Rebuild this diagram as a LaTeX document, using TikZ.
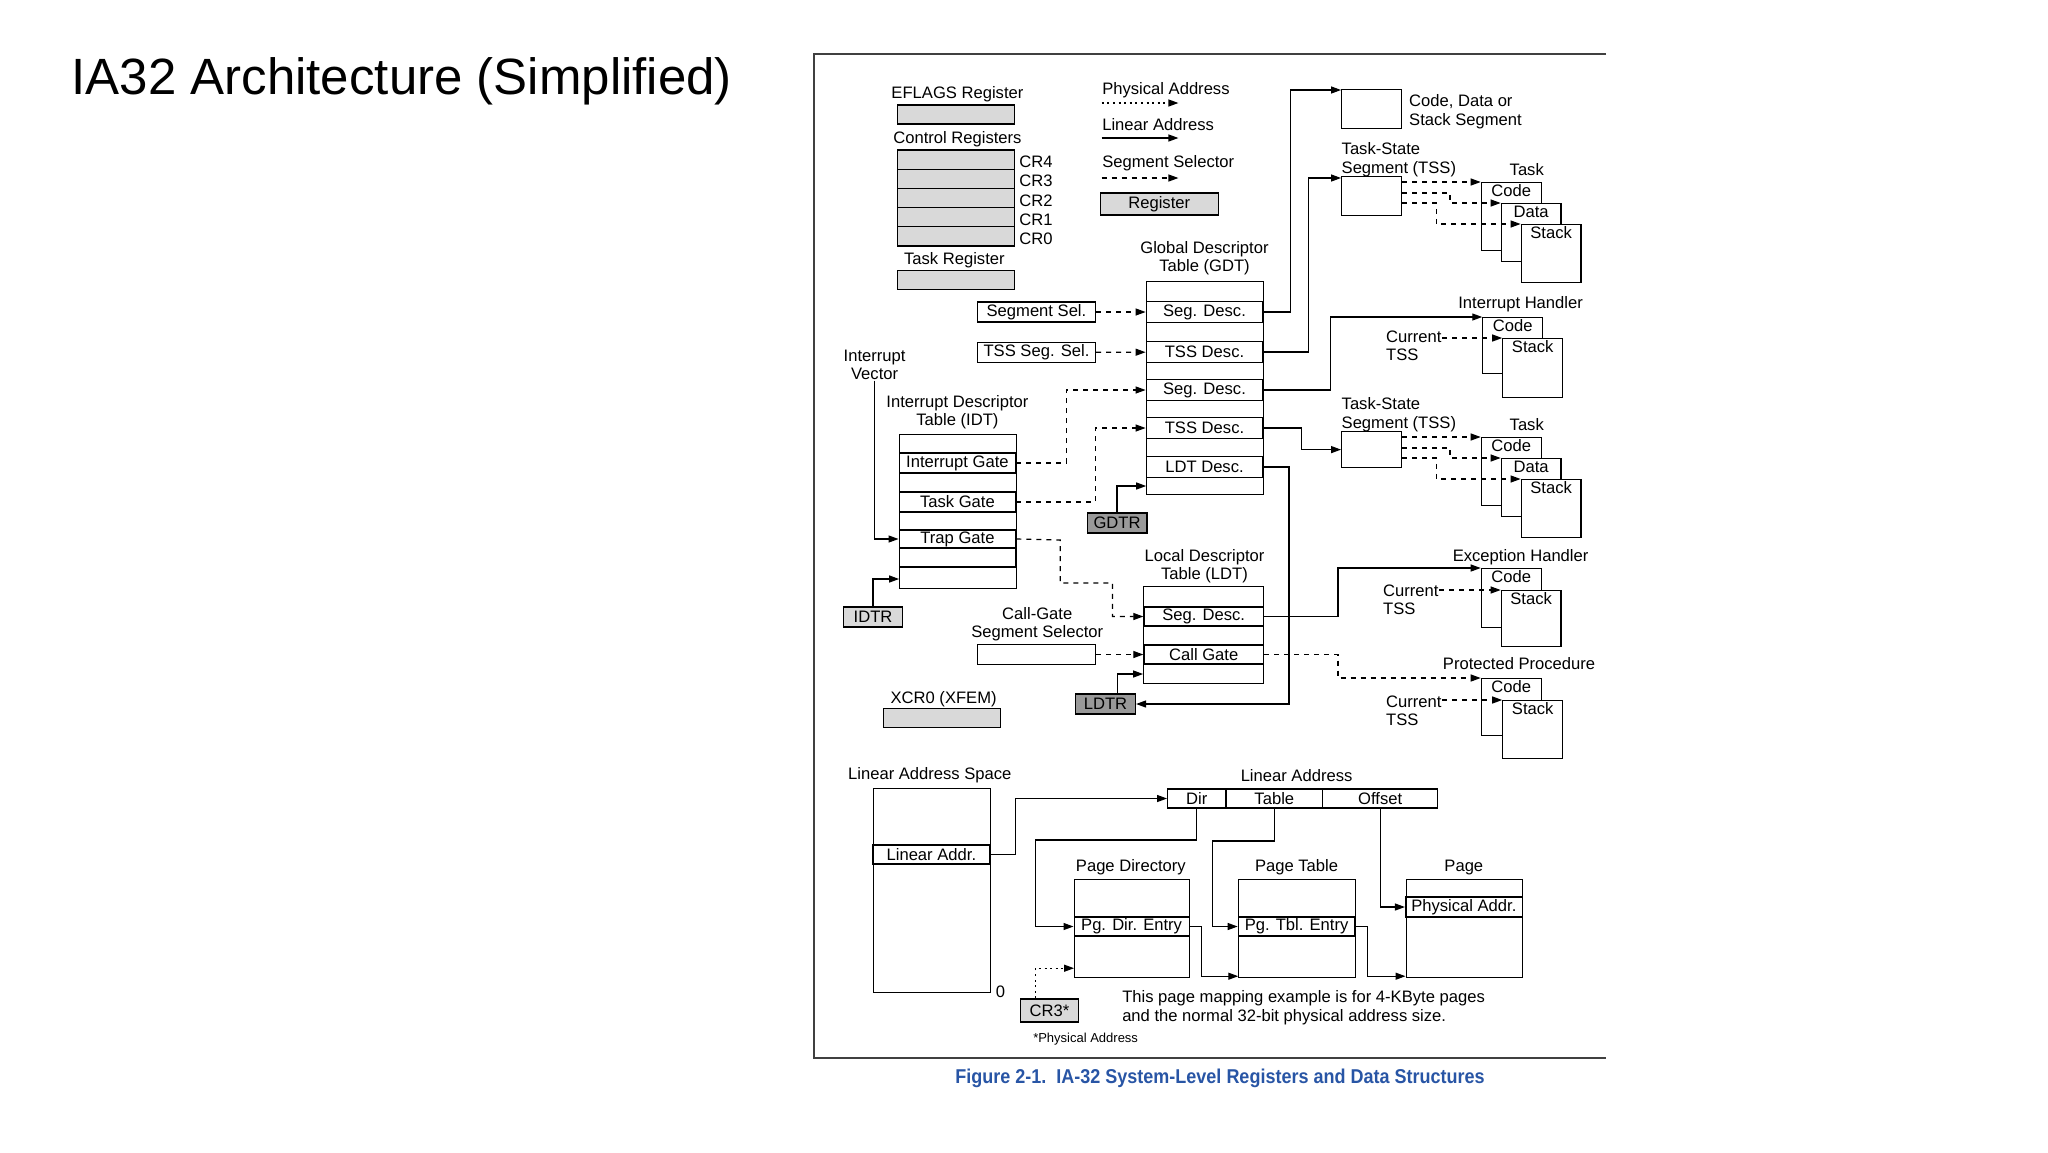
\documentclass[tikz,border=0pt]{standalone}
\usepackage{fontspec}
\setmainfont{Liberation Sans}
\newfontfamily\titlefont{Liberation Sans}
\newfontfamily\capfont{Liberation Sans}[FakeStretch=0.9]
\usetikzlibrary{arrows.meta,positioning}
\definecolor{regfill}{gray}{0.85}
\definecolor{regdark}{gray}{0.6}
\definecolor{capblue}{RGB}{40,85,165}
\tikzset{
  every node/.style={font=\fontsize{8.3}{9.3}\selectfont},
  row/.style={draw, minimum width=58.3pt, minimum height=10pt, inner sep=0pt},
  tbl/.style={draw, minimum width=58.3pt, anchor=north west, inner sep=0pt},
  reg/.style={draw, fill=regfill, minimum width=58.3pt, minimum height=9.5pt, inner sep=0pt},
  sreg/.style={draw, fill=regdark, minimum width=29.9pt, minimum height=10pt, inner sep=0pt},
  page/.style={draw, fill=white, minimum width=29.9pt, anchor=north west, inner sep=0pt},
  lbl/.style={align=center, inner sep=0pt},
  lin/.style={-{Triangle[length=5pt,width=3.5pt]}},
  sel/.style={lin, dash pattern=on 2.5pt off 2.5pt},
  phys/.style={lin, dash pattern=on 1pt off 1.8pt},
}
\begin{document}
\begin{tikzpicture}[x=0.5pt, y=-0.5pt, line width=0.6pt]
  \useasboundingbox (0,0) rectangle (2048,1152);
  \node[anchor=west, inner sep=0pt, font=\titlefont\fontsize{25.5}{30}\selectfont] (title) at (71,81) {IA32 Architecture (Simplified)};

  % frame
  \draw[line width=0.8pt, black!75] (1606,54) -- (814,54) -- (814,1058) -- (1606,1058);

  \begin{scope}[x=0.76725pt, xshift=-216.4pt]
  % registers
  \node[lbl] (eflagslbl) at (906,94) {EFLAGS Register};
  \node[reg] (eflags) at (905,114.5) {};
  \node[lbl] (crlbl) at (906,139) {Control Registers};
  \foreach \i/\c in {0/CR4,1/CR3,2/CR2,3/CR1,4/CR0} {
    \node[reg, minimum height=9.6pt] (cr\i) at (905,{159.6+19.2*\i}) {};
    \node[anchor=west, inner sep=0pt] (crname\i) at (946,{162+19.2*\i}) {\c};
  }
  \node[lbl] (trlbl) at (904,260) {Task Register};
  \node[reg] (tr) at (905,280) {};
  \node[lbl] (xcrlbl) at (897,699) {XCR0 (XFEM)};
  \node[reg] (xcr) at (896,718) {};

  % legend
  \node[anchor=west, inner sep=0pt] (lgphys) at (1000,90) {Physical Address};
  \coordinate (lgpa) at (1000,103); \coordinate (lgpb) at (1050,103);
  \draw[phys] (lgpa) -- (lgpb);
  \node[anchor=west, inner sep=0pt] (lglin) at (1000,125) {Linear Address};
  \coordinate (lgla) at (1000,138); \coordinate (lglb) at (1050,138);
  \draw[lin] (lgla) -- (lglb);
  \node[anchor=west, inner sep=0pt] (lgsel) at (1000,163) {Segment Selector};
  \coordinate (lgsa) at (1000,178); \coordinate (lgsb) at (1050,178);
  \draw[sel] (lgsa) -- (lgsb);
  \node[reg, minimum width=59.1pt, minimum height=11pt] (lgreg) at (1037.5,204) {Register};

  % GDT
  \node[lbl] (gdtlbl) at (1067,258) {Global Descriptor\\Table (GDT)};
  \node[tbl, minimum height=106.5pt] (gdt) at (1029,281) {};
  \foreach \i/\y/\t in {1/312/Seg. Desc.,2/352/TSS Desc.,3/390/Seg. Desc.,4/428/TSS Desc.,5/467/LDT Desc.}
    \node[row, minimum height=10.5pt] (gdt\i) at (1067,\y) {\t};
  \node[row, minimum width=59.1pt] (segsel) at (957.5,312) {Segment Sel.};
  \node[row, minimum width=59.1pt] (tsssel) at (957.5,352.5) {TSS Seg. Sel.};
  \draw[sel] (segsel) -- (gdt1);
  \draw[sel] (tsssel) -- (gdt2);
  \node[sreg] (gdtr) at (1010,523) {GDTR};
  \draw[lin] (gdtr.north) |- (gdt.west |- 0,486);

  % IDT
  \node[lbl] (ivec) at (852,365) {Interrupt\\Vector};
  \node[lbl] (idtlbl) at (906,412) {Interrupt Descriptor\\Table (IDT)};
  \node[tbl, minimum height=77pt] (idt) at (868,434) {};
  \node[row] (igate) at (906,463) {Interrupt Gate};
  \node[row] (tgate) at (906,502) {Task Gate};
  \node[row, minimum height=9pt] (trgate) at (906,539) {Trap Gate};
  \node[row, minimum height=9.5pt] (idt4) at (906,557.5) {};
  \draw[lin] (ivec.south) |- (trgate.west);
  \node[reg, minimum width=29.2pt, minimum height=10pt] (idtr) at (851,617) {IDTR};
  \draw[lin] (idtr.north) |- (idt.west |- 0,579);
  \draw[sel] (igate.east) -- (977,463) |- (gdt3.west);
  \draw[sel] (tgate.east) -- (996,502) |- (gdt4.west);

  % LDT
  \node[lbl] (ldtlbl) at (1067,566) {Local Descriptor\\Table (LDT)};
  \node[tbl, minimum width=59.8pt, minimum height=48.5pt] (ldt) at (1027,586) {};
  \node[row, minimum width=59.8pt, minimum height=9.5pt] (ldt1) at (1066.5,616.5) {Seg. Desc.};
  \node[row, minimum width=59.8pt, minimum height=9.5pt] (ldt2) at (1066.5,654.5) {Call Gate};
  \draw[sel] (trgate.east) -- (973,540) -- (973,583) -- (1007,583) |- (ldt1.west);
  \node[lbl] (cglbl) at (958,624) {Call-Gate\\Segment Selector};
  \node[row, minimum width=59.1pt] (cgsel) at (957.5,654.5) {};
  \draw[sel] (cgsel) -- (ldt2);
  \node[sreg] (ldtr) at (1002.5,704) {LDTR};
  \draw[lin] ([xshift=6pt]ldtr.north) |- (ldt.west |- 0,674);
  \draw[lin] (gdt5.east) -- (1122,467) |- (ldtr.east);

  % code, data or stack segment
  \node[page, minimum height=19.5pt] (cds) at (1156,89) {};
  \node[anchor=north west, align=left, inner sep=0pt] (cdslbl) at (1200,94) {Code, Data or\\Stack Segment};
  \draw[lin] (gdt1.east) -- (1123,312) |- ([yshift=-0.5pt]cds.north west);

  % tasks
  \foreach \n/\d/\h in {1/0/19.5, 2/255/18} {
    \node[anchor=north west, align=left, inner sep=0pt] (tsslbl\n) at (1156,{142+\d}) {Task-State\\Segment (TSS)};
    \node[page, minimum height=\h pt] (tss\n) at (1156,{176+\d}) {};
    \node[inner sep=0pt] (tasklbl\n) at (1277,{170+\d}) {Task};
    \node[page, minimum height=34pt, label={[anchor=north, inner sep=1pt]north:Code}] (code\n) at (1247,{182+\d}) {};
    \node[page, minimum height=29pt, label={[anchor=north, inner sep=1pt]north:Data}] (data\n) at (1260,{203+\d}) {};
    \node[page, minimum height=29pt, label={[anchor=north, inner sep=1pt]north:Stack}] (stack\n) at (1273,{224+\d}) {};
    \draw[sel] (tss\n.east |- code\n.north west) -- (code\n.north west);
    \draw[sel] (tss\n.east |- 0,{193+\d}) -- (1227,{193+\d}) |- (data\n.north west);
    \draw[sel] (tss\n.east |- 0,{203+\d}) -- (1218,{203+\d}) |- (stack\n.north west);
  }
  \draw[lin] (gdt2.east) -- (1135,352) |- ([yshift=-1pt]tss1.north west);
  \draw[lin] (gdt4.east) -- (1130,428) |- (tss2.west);

  % handlers
  \node[inner sep=0pt] (hlbl) at (1273,304) {Interrupt Handler};
  \node[page, minimum height=28pt, label={[anchor=north, inner sep=1pt]north:Code}] (hcode) at (1248,317) {};
  \node[page, minimum height=29.5pt, label={[anchor=north, inner sep=1pt]north:Stack}] (hstack) at (1261,338) {};
  \node[anchor=north west, align=left, inner sep=0pt] (ctss1) at (1185,330) {Current\\TSS};
  \draw[sel] (ctss1.east |- hstack.north west) -- (hstack.north west);
  \draw[lin] (gdt3.east) -- (1149,390) |- (hcode.north west);

  \node[inner sep=0pt] (elbl) at (1273,557) {Exception Handler};
  \node[page, minimum height=29.5pt, label={[anchor=north, inner sep=1pt]north:Code}] (ecode) at (1247,568) {};
  \node[page, minimum height=28pt, label={[anchor=north, inner sep=1pt]north:Stack}] (estack) at (1260,590) {};
  \node[anchor=north west, align=left, inner sep=0pt] (ctss2) at (1183,584) {Current\\TSS};
  \draw[sel] (ctss2.east |- estack.north west) -- (estack.north west);
  \draw[lin] (ldt1.east) -- (1154,616.5) |- (ecode.north west);

  \node[inner sep=0pt] (plbl) at (1272,664) {Protected Procedure};
  \node[page, minimum height=28.5pt, label={[anchor=north, inner sep=1pt]north:Code}] (pcode) at (1247,678) {};
  \node[page, minimum height=29pt, label={[anchor=north, inner sep=1pt]north:Stack}] (pstack) at (1261,700) {};
  \node[anchor=north west, align=left, inner sep=0pt] (ctss3) at (1185,695) {Current\\TSS};
  \draw[sel] (ctss3.east |- pstack.north west) -- (pstack.north west);
  \draw[sel] (ldt2.east) -- (1154,654.5) |- (pcode.north west);

  % paging
  \node[inner sep=0pt] (laslbl) at (888,775) {Linear Address Space};
  \node[tbl, minimum height=102pt] (las) at (851,788) {};
  \node[row, minimum height=9.5pt] (laddr) at (889,854.5) {Linear Addr.};
  \node[inner sep=0pt] (zero) at (934,992) {0};
  \node[inner sep=0pt] (lalbl) at (1127,776) {Linear Address};
  \node[row, minimum width=29.2pt, minimum height=9.5pt] (ladir) at (1062,798.5) {Dir};
  \node[row, minimum width=48.3pt, minimum height=9.5pt] (latab) at (1112.5,798.5) {Table};
  \node[row, minimum width=57.5pt, minimum height=9.5pt] (laoff) at (1181.5,798.5) {Offset};
  \draw[lin] (laddr.east) -- (944,854.5) |- (ladir.west);

  \node[inner sep=0pt] (pdlbl) at (1019,867) {Page Directory};
  \node[tbl, minimum width=57.5pt, minimum height=49pt] (pd) at (982,879) {};
  \node[row, minimum width=57.5pt, minimum height=9.5pt] (pde) at (1019.5,926.5) {Pg. Dir. Entry};
  \node[inner sep=0pt] (ptlbl) at (1127,867) {Page Table};
  \node[tbl, minimum height=49pt] (pt) at (1089,879) {};
  \node[row, minimum height=9.5pt] (pte) at (1127,926.5) {Pg. Tbl. Entry};
  \node[inner sep=0pt] (pglbl) at (1236,867) {Page};
  \node[tbl, minimum height=49pt] (pg) at (1198,879) {};
  \node[row, minimum height=10pt] (pgaddr) at (1236,907) {Physical Addr.};

  \draw[lin] (ladir.south) |- (957,840) |- (pde.west);
  \draw[lin] (latab.south) |- (1072,841) |- (pte.west);
  \draw[lin] (laoff.south) |- (pgaddr.west);
  \draw[lin] (pde.east) -- (1065,926.5) |- ([yshift=1pt]pt.south west);
  \draw[lin] (pte.east) -- (1173,926.5) |- ([yshift=1pt]pg.south west);
  \node[reg, minimum width=29.2pt, minimum height=11.5pt] (cr3) at (966,1010.5) {CR3*};
  \draw[phys] ([xshift=-7pt]cr3.north) |- ([yshift=5pt]pd.south west);
  \node[anchor=north west, align=left, inner sep=0pt] (note) at (1013,990) {This page mapping example is for 4-KByte pages\\and the normal 32-bit physical address size.};
  \node[anchor=west, inner sep=0pt, font=\fontsize{6.5}{7}\selectfont] (phystxt) at (955,1039) {*Physical Address};
  \end{scope}

  % caption
  \node[inner sep=0pt, text=capblue, font=\capfont\bfseries\fontsize{10}{12}\selectfont] (caption) at (1220,1078) {Figure 2-1.\ \ IA-32 System-Level Registers and Data Structures};
\end{tikzpicture}
\end{document}
